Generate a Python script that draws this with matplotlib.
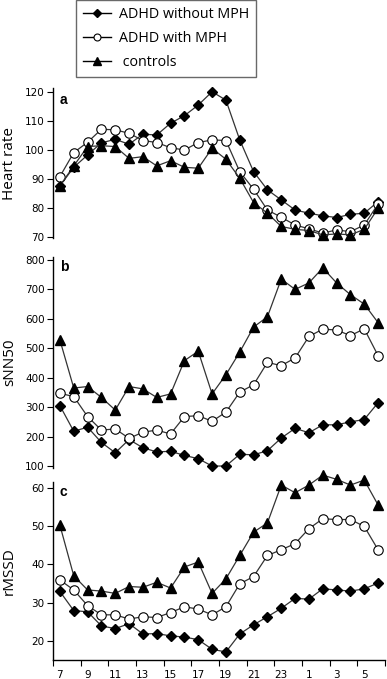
import matplotlib
matplotlib.use("Agg")
import matplotlib.pyplot as plt
from matplotlib.lines import Line2D

hours = [7, 8, 9, 10, 11, 12, 13, 14, 15, 16, 17, 18, 19, 20, 21, 22, 23, 0, 1, 2, 3, 4, 5, 6]
tick_labels = ["7", "9", "11", "13", "15", "17", "19", "21", "23", "1", "3", "5"]

hr_without = [87.6, 94.0, 98.3, 102.5, 103.7, 102.0, 105.5, 105.2, 109.3, 111.9, 115.6, 120.2,
              117.3, 103.5, 92.5, 86.2, 82.7, 79.2, 78.1, 77.2, 76.6, 77.7, 78.1, 82.1]
hr_with = [90.8, 99.1, 102.7, 107.2, 107.0, 105.8, 103.3, 102.6, 100.8, 100.0, 102.6, 103.5,
           103.3, 92.5, 86.4, 79.2, 76.7, 74.0, 72.7, 71.2, 72.3, 71.7, 74.0, 81.3]
hr_controls = [87.6, 94.5, 101.2, 101.5, 101.2, 97.1, 97.7, 94.5, 96.3, 94.0, 93.7, 100.6,
               96.8, 90.2, 81.8, 78.1, 73.5, 72.5, 72.1, 70.6, 70.9, 70.6, 72.5, 79.8]

snn_without = [305, 218, 232, 180, 145, 190, 162, 148, 150, 136, 125, 100,
               100, 140, 138, 152, 195, 228, 213, 240, 240, 250, 258, 315]
snn_with = [347, 336, 268, 222, 226, 194, 215, 222, 209, 268, 271, 252,
            283, 351, 376, 452, 441, 467, 540, 565, 562, 543, 566, 475]
snn_controls = [528, 365, 370, 333, 290, 370, 362, 333, 345, 458, 490, 345,
                410, 487, 572, 607, 735, 700, 722, 773, 722, 682, 650, 587]

rmssd_without = [32.9, 27.9, 27.6, 23.9, 23.2, 24.5, 21.8, 21.9, 21.3, 21.0, 20.3, 17.8,
                 17.1, 21.8, 24.2, 26.3, 28.5, 31.1, 30.9, 33.6, 33.3, 33.0, 33.6, 35.1]
rmssd_with = [35.9, 33.3, 29.2, 26.8, 26.8, 25.7, 26.3, 26.1, 27.4, 28.9, 28.3, 26.8,
              28.9, 34.9, 36.8, 42.3, 43.8, 45.4, 49.3, 51.9, 51.7, 51.7, 49.9, 43.8]
rmssd_controls = [50.2, 37.0, 33.3, 33.0, 32.4, 34.2, 34.0, 35.3, 33.8, 39.3, 40.6, 32.4,
                  36.2, 42.3, 48.4, 50.8, 60.7, 58.7, 60.7, 63.3, 62.2, 60.7, 62.0, 55.5]

series_labels = ["ADHD without MPH", "ADHD with MPH", " controls"]

plt.rcParams['font.family'] = ['DejaVu Sans']

fig = plt.figure(figsize=(3.87, 6.79), dpi=100)
L, W = 53 / 387, 332 / 387

def frac(top_px, bot_px):
    return [L, 1 - bot_px / 679, W, (bot_px - top_px) / 679]

ax_a = fig.add_axes(frac(88, 238))
ax_b = fig.add_axes(frac(257, 467.5))
ax_c = fig.add_axes(frac(482, 660))

x = list(range(len(hours)))
lc = '#333333'
styles = [
    dict(marker='D', markersize=4.6, markerfacecolor='black', markeredgecolor='black'),
    dict(marker='o', markersize=6.8, markerfacecolor='white', markeredgecolor='black', markeredgewidth=0.8),
    dict(marker='^', markersize=7, markerfacecolor='black', markeredgecolor='black'),
]

panels = [
    (ax_a, [hr_without, hr_with, hr_controls], (69.5, 121.5), [70, 80, 90, 100, 110, 120], 'Heart rate', 'a'),
    (ax_b, [snn_without, snn_with, snn_controls], (95, 810), [100, 200, 300, 400, 500, 600, 700, 800], 'sNN50', 'b'),
    (ax_c, [rmssd_without, rmssd_with, rmssd_controls], (15, 61.5), [20, 30, 40, 50, 60], 'rMSSD', 'c'),
]

for ax, data, ylim, yt, ylabel, letter in panels:
    for vals, st in zip(data, styles):
        ax.plot(x, vals, color=lc, linewidth=0.9, clip_on=False, **st)
    ax.set_xlim(-0.5, len(hours) - 0.5)
    ax.set_ylim(*ylim)
    ax.set_yticks(yt)
    ax.tick_params(axis='y', labelsize=7.5, length=4, width=0.8, direction='out', pad=2)
    for s in ['top', 'right']:
        ax.spines[s].set_visible(False)
    ax.spines['left'].set_linewidth(1.0)
    ax.text(0.02, 0.985 if letter != 'a' else 0.97, letter, transform=ax.transAxes,
            fontsize=10, fontweight='bold', family='Liberation Sans', va='top', ha='left')
    ax.set_ylabel(ylabel, fontsize=11, family='Open Sans')
    ax.yaxis.set_label_coords(-0.108, 0.5)

for ax in (ax_a, ax_b):
    ax.spines['bottom'].set_visible(False)
    ax.set_xticks([])

ax_c.spines['bottom'].set_linewidth(1.0)
ax_c.set_xticks([i - 0.5 for i in range(0, len(hours) + 1, 2)])
ax_c.set_xticklabels([])
ax_c.set_xticks(list(range(0, len(hours), 2)), minor=True)
ax_c.set_xticklabels(tick_labels, minor=True)
ax_c.tick_params(axis='x', which='major', length=4, width=0.8)
ax_c.tick_params(axis='x', which='minor', length=0, labelsize=7.5, pad=7)

leg_styles = [
    dict(marker='D', markersize=3.8, markerfacecolor='black', markeredgecolor='black'),
    dict(marker='o', markersize=5, markerfacecolor='white', markeredgecolor='black', markeredgewidth=0.8),
    dict(marker='^', markersize=6, markerfacecolor='black', markeredgecolor='black'),
]
handles = [Line2D([], [], color='black', linewidth=1.0, **st) for st in leg_styles]
leg = fig.legend(handles, series_labels, loc='upper left', bbox_to_anchor=(76 / 387, 1.0),
                 frameon=True, fancybox=False, edgecolor='#444444', prop={'family': 'Open Sans', 'size': 10.3},
                 handlelength=1.95, labelspacing=0.62, borderpad=0.5, handletextpad=0.55,
                 borderaxespad=0)
leg.get_frame().set_linewidth(1.0)

fig.savefig('out.png', dpi=100)
